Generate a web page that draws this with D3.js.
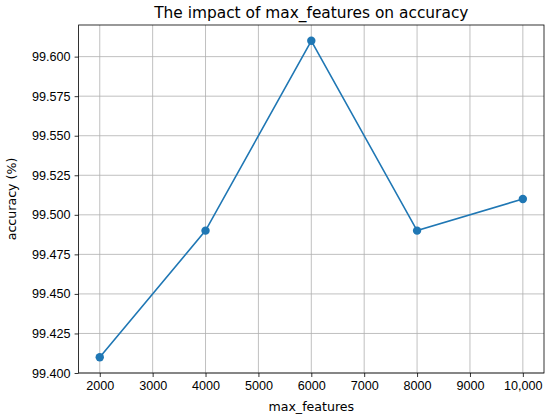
<!DOCTYPE html>
<html>
<head>
<meta charset="utf-8">
<script src="https://cdn.jsdelivr.net/npm/d3@7"></script>
<style>
    body { margin: 0; background: #fff; }
    svg { font-family: "DejaVu Sans", sans-serif; }
    .tick text { font-size: 12.6px; fill: #000; }
    .tick line { stroke: #000; stroke-width: 0.8; }
    .domain { stroke: none; }
</style>
</head>
<body>
<div id="chart"></div>
<script>
let maxFeatures = [2000, 4000, 6000, 8000, 10000];
let accuracy = [99.41, 99.49, 99.61, 99.49, 99.51];
let xTicks = [2000, 3000, 4000, 5000, 6000, 7000, 8000, 9000, 10000];
let xTickLabels = ["2000", "3000", "4000", "5000", "6000", "7000", "8000", "9000", "10,000"];
let yTicks = [99.400, 99.425, 99.450, 99.475, 99.500, 99.525, 99.550, 99.575, 99.600];

let width = 550, height = 420;
let margin = {top: 25, right: 6, bottom: 47, left: 78.6};

let data = maxFeatures.map((x, i) => ({x, y: accuracy[i]}));

let svg = d3.select("#chart").append("svg")
    .attr("width", width)
    .attr("height", height);

let x_scale = d3.scaleLinear()
    .domain([1600, 10400])
    .range([margin.left, width - margin.right]);

let y_scale = d3.scaleLinear()
    .domain([99.40, 99.62])
    .range([height - margin.bottom, margin.top]);

// grid
svg.append("g")
    .selectAll("line")
    .data(xTicks)
    .join("line")
    .attr("x1", d => x_scale(d)).attr("x2", d => x_scale(d))
    .attr("y1", margin.top).attr("y2", height - margin.bottom)
    .attr("stroke", "#b0b0b0").attr("stroke-width", 0.8);

svg.append("g")
    .selectAll("line")
    .data(yTicks)
    .join("line")
    .attr("x1", margin.left).attr("x2", width - margin.right)
    .attr("y1", d => y_scale(d)).attr("y2", d => y_scale(d))
    .attr("stroke", "#b0b0b0").attr("stroke-width", 0.8);

// axes
svg.append("g")
    .attr("transform", `translate(0,${height - margin.bottom})`)
    .call(d3.axisBottom(x_scale)
        .tickValues(xTicks)
        .tickFormat((d, i) => xTickLabels[i])
        .tickSize(4).tickPadding(4));

svg.append("g")
    .attr("transform", `translate(${margin.left},0)`)
    .call(d3.axisLeft(y_scale)
        .tickValues(yTicks)
        .tickFormat(d3.format(".3f"))
        .tickSize(4).tickPadding(4));

// frame
svg.append("rect")
    .attr("x", margin.left).attr("y", margin.top)
    .attr("width", width - margin.right - margin.left)
    .attr("height", height - margin.bottom - margin.top)
    .attr("fill", "none").attr("stroke", "#000").attr("stroke-width", 0.8);

// line + markers
let valueLine = d3.line()
    .x(d => x_scale(d.x))
    .y(d => y_scale(d.y));

svg.append("path")
    .datum(data)
    .attr("d", valueLine)
    .attr("fill", "none")
    .attr("stroke", "#1f77b4")
    .attr("stroke-width", 1.6);

svg.append("g")
    .selectAll("circle")
    .data(data)
    .join("circle")
    .attr("cx", d => x_scale(d.x))
    .attr("cy", d => y_scale(d.y))
    .attr("r", 4.2)
    .attr("fill", "#1f77b4");

// labels
let cx = (margin.left + width - margin.right) / 2;
svg.append("text")
    .attr("x", cx).attr("y", 18)
    .attr("text-anchor", "middle")
    .attr("font-size", 15.4)
    .text("The impact of max_features on accuracy");

svg.append("text")
    .attr("x", cx).attr("y", 411)
    .attr("text-anchor", "middle")
    .attr("font-size", 12.6)
    .text("max_features");

svg.append("text")
    .attr("transform", `translate(16,${(margin.top + height - margin.bottom) / 2}) rotate(-90)`)
    .attr("text-anchor", "middle")
    .attr("font-size", 12.6)
    .text("accuracy (%)");
</script>
</body>
</html>
